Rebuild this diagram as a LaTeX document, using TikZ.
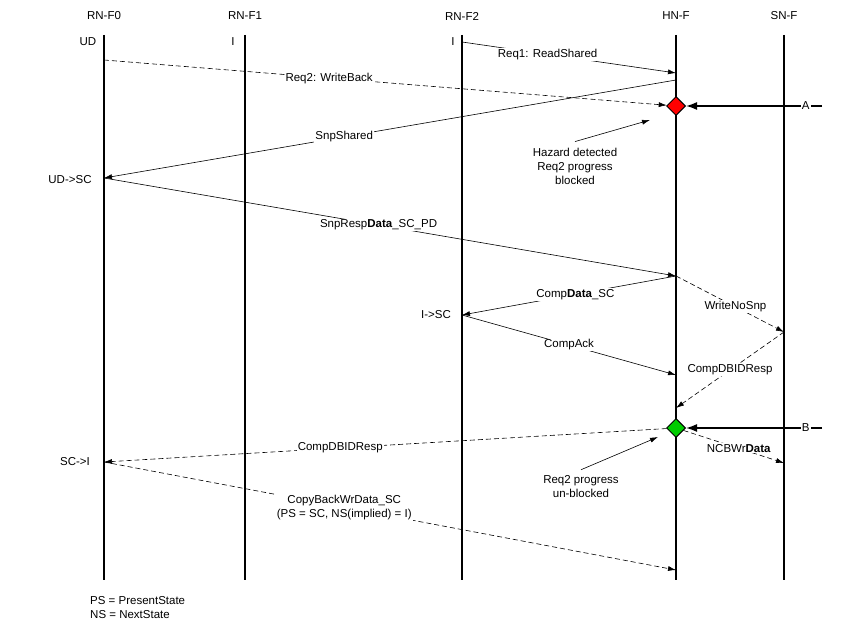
\documentclass[tikz,border=0pt]{standalone}
\usepackage{fontspec}
\setmainfont{Liberation Sans}
\usetikzlibrary{arrows.meta,shapes.geometric}
\begin{document}
\begin{tikzpicture}[x=1pt,y=-1pt,font=\fontsize{11.5}{14}\selectfont,
 life/.style={line width=1.6pt},
 msg/.style={-{Latex[length=8pt,width=5pt]},line width=0.6pt},
 dmsg/.style={msg,dash pattern=on 5pt off 3pt},
 lbl/.style={fill=white,inner sep=1pt},
 txt/.style={inner sep=0pt},
 dia/.style={diamond,draw=black,line width=1pt,minimum size=19pt,inner sep=0pt}]
\useasboundingbox (0,0) rectangle (841,628);
\foreach \n/\x/\t in {f0/104/RN-F0,f1/245/RN-F1,f2/462/RN-F2,hn/676/HN-F,sn/784/SN-F}{
 \node[txt] (h\n) at (\x,16) {\t};
 \coordinate (t\n) at (\x,35);
 \coordinate (b\n) at (\x,580);
 \draw[life] (t\n) -- (b\n);
}
\node[txt] (s0) at (88,42) {UD};
\node[txt] (s1) at (233,42) {I};
\node[txt] (s2) at (453,42) {I};
\node[dia,fill=red] (dA) at (676,106) {};
\node[dia,fill=green!80!black] (dB) at (676,428) {};
\coordinate (eA) at (822,106);
\coordinate (eB) at (822,428);
\draw[line width=1.6pt,-{Latex[length=11pt,width=8pt]}] (eA) -- node[lbl,pos=0.12]{A} (dA);
\draw[line width=1.6pt,-{Latex[length=11pt,width=8pt]}] (eB) -- node[lbl,pos=0.12]{B} (dB);
\coordinate (r1s) at (462,42); \coordinate (r1e) at (676,73);
\coordinate (r2s) at (104,60);
\coordinate (sps) at (676,80); \coordinate (spe) at (104,178);
\coordinate (c2s) at (676,276); \coordinate (snw) at (784,332);
\coordinate (c2e) at (462,315); \coordinate (cae) at (676,375);
\coordinate (cdb) at (676,408); \coordinate (ncb) at (784,463);
\coordinate (sci) at (104,462); \coordinate (cbe) at (676,570);
\draw[msg] (r1s) -- node[lbl,pos=0.4]{Req1: ReadShared} (r1e);
\draw[dmsg] (r2s) -- node[lbl,pos=0.4]{Req2: WriteBack} (dA);
\draw[msg] (sps) -- node[lbl,pos=0.58]{SnpShared} (spe);
\draw[msg] (spe) -- node[lbl,pos=0.48]{SnpResp\textbf{Data}\_SC\_PD} (c2s);
\draw[dmsg] (c2s) -- node[lbl,pos=0.55]{WriteNoSnp} (snw);
\draw[msg] (c2s) -- node[lbl,pos=0.47]{Comp\textbf{Data}\_SC} (c2e);
\draw[msg] (c2e) -- node[lbl,pos=0.5]{CompAck} (cae);
\draw[dmsg] (snw) -- node[lbl,pos=0.5]{CompDBIDResp} (cdb);
\draw[dmsg] (dB) -- node[lbl,pos=0.55]{NCBWr\textbf{Data}} (ncb);
\draw[dmsg] (dB) -- node[lbl,pos=0.58]{CompDBIDResp} (sci);
\draw[dmsg] (sci) -- node[lbl,pos=0.42,align=center]{CopyBackWrData\_SC\\(PS = SC, NS(implied) = I)} (cbe);
\node[txt] (ud) at (70,180) {UD->SC};
\node[txt] (isc) at (436,315) {I->SC};
\node[txt] (sc) at (75,462) {SC->I};
\node[txt,align=center] (hz) at (575,166) {Hazard detected\\Req2 progress\\blocked};
\draw[msg] (hz.north) ++(0,-6) coordinate (hzs) -- (650,120);
\node[txt,align=center] (ub) at (581,487) {Req2 progress\\un-blocked};
\draw[msg] (ub.north) ++(0,-6) coordinate (ubs) -- (658,437);
\node[txt,align=left,anchor=west] (leg) at (90,608) {PS = PresentState\\NS = NextState};
\end{tikzpicture}
\end{document}
